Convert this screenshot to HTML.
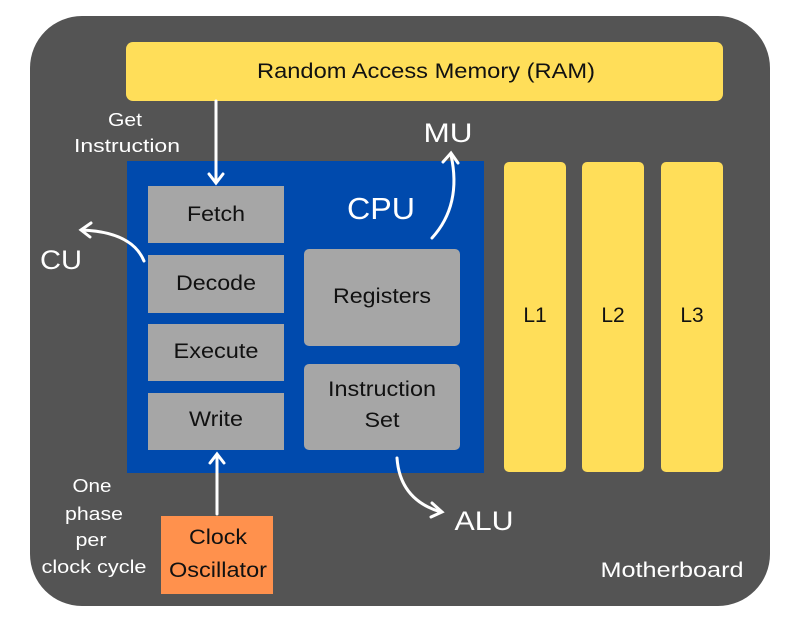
<!DOCTYPE html>
<html><head><style>
body{margin:0;background:#fff;}
svg text{font-family:"Liberation Sans",sans-serif;}
</style></head><body>
<svg width="794" height="618" xmlns="http://www.w3.org/2000/svg">
<rect x="0" y="0" width="794" height="618" fill="#fff"/>
<rect x="30" y="16" width="740" height="590" rx="52" fill="#545454"/>
<rect x="126" y="42" width="597" height="59" rx="7" fill="#FFDE59"/>
<text x="426" y="78" font-size="21" text-anchor="middle" fill="#111" textLength="338" lengthAdjust="spacingAndGlyphs">Random Access Memory (RAM)</text>
<rect x="127" y="161" width="357" height="312" fill="#004AAD"/>
<g fill="#A6A6A6">
<rect x="148" y="186" width="136" height="57"/>
<rect x="148" y="255" width="136" height="58"/>
<rect x="148" y="324" width="136" height="57"/>
<rect x="148" y="393" width="136" height="57"/>
<rect x="304" y="249" width="156" height="97" rx="5"/>
<rect x="304" y="364" width="156" height="86" rx="5"/>
</g>
<g font-size="21" fill="#111" text-anchor="middle" lengthAdjust="spacingAndGlyphs">
<text x="216" y="221" textLength="58" lengthAdjust="spacingAndGlyphs">Fetch</text>
<text x="216" y="290" textLength="80" lengthAdjust="spacingAndGlyphs">Decode</text>
<text x="216" y="358" textLength="85" lengthAdjust="spacingAndGlyphs">Execute</text>
<text x="216" y="426" textLength="54" lengthAdjust="spacingAndGlyphs">Write</text>
<text x="382" y="303" textLength="98" lengthAdjust="spacingAndGlyphs">Registers</text>
<text x="382" y="396" textLength="108" lengthAdjust="spacingAndGlyphs">Instruction</text>
<text x="382" y="427" textLength="35" lengthAdjust="spacingAndGlyphs">Set</text>
</g>
<text x="381" y="219" font-size="31" fill="#fff" text-anchor="middle" textLength="68" lengthAdjust="spacingAndGlyphs">CPU</text>
<g fill="#FFDE59">
<rect x="504" y="162" width="62" height="310" rx="5"/>
<rect x="582" y="162" width="62" height="310" rx="5"/>
<rect x="661" y="162" width="62" height="310" rx="5"/>
</g>
<g font-size="21" fill="#111" text-anchor="middle">
<text x="535" y="322">L1</text><text x="613" y="322">L2</text><text x="692" y="322">L3</text>
</g>
<rect x="161" y="516" width="112" height="78" fill="#FF914D"/>
<text x="218" y="544" font-size="21" fill="#111" text-anchor="middle" textLength="58" lengthAdjust="spacingAndGlyphs">Clock</text>
<text x="218" y="577" font-size="21" fill="#111" text-anchor="middle" textLength="98" lengthAdjust="spacingAndGlyphs">Oscillator</text>
<g stroke="#fff" stroke-width="3" fill="none" stroke-linecap="round">
<line x1="216" y1="101" x2="216" y2="182"/>
<polyline points="209,174 216,183 223,174"/>
<line x1="217" y1="514" x2="217" y2="455"/>
<polyline points="210,463 217,454 224,463"/>
<path d="M432 238 Q462 205 451 155"/>
<polyline points="443,162 451,153 458,163"/>
<path d="M144 261 Q132 232 82 230"/>
<polyline points="91,223 81,230 90,237"/>
<path d="M397 458 Q400 500 441 512"/>
<polyline points="432,503 442,512 431,517"/>
</g>
<g fill="#fff" text-anchor="middle">
<text x="125" y="126" font-size="18" textLength="34" lengthAdjust="spacingAndGlyphs">Get</text>
<text x="127" y="152" font-size="18" textLength="106" lengthAdjust="spacingAndGlyphs">Instruction</text>
<text x="448" y="142" font-size="27" textLength="49" lengthAdjust="spacingAndGlyphs">MU</text>
<text x="61" y="269" font-size="27" textLength="42" lengthAdjust="spacingAndGlyphs">CU</text>
<text x="484" y="530" font-size="27" textLength="59" lengthAdjust="spacingAndGlyphs">ALU</text>
<text x="92" y="492" font-size="18" textLength="39" lengthAdjust="spacingAndGlyphs">One</text>
<text x="94" y="520" font-size="18" textLength="58" lengthAdjust="spacingAndGlyphs">phase</text>
<text x="91" y="546" font-size="18" textLength="31" lengthAdjust="spacingAndGlyphs">per</text>
<text x="94" y="573" font-size="18" textLength="105" lengthAdjust="spacingAndGlyphs">clock cycle</text>
<text x="672" y="577" font-size="21" textLength="143" lengthAdjust="spacingAndGlyphs">Motherboard</text>
</g>
</svg>
</body></html>
